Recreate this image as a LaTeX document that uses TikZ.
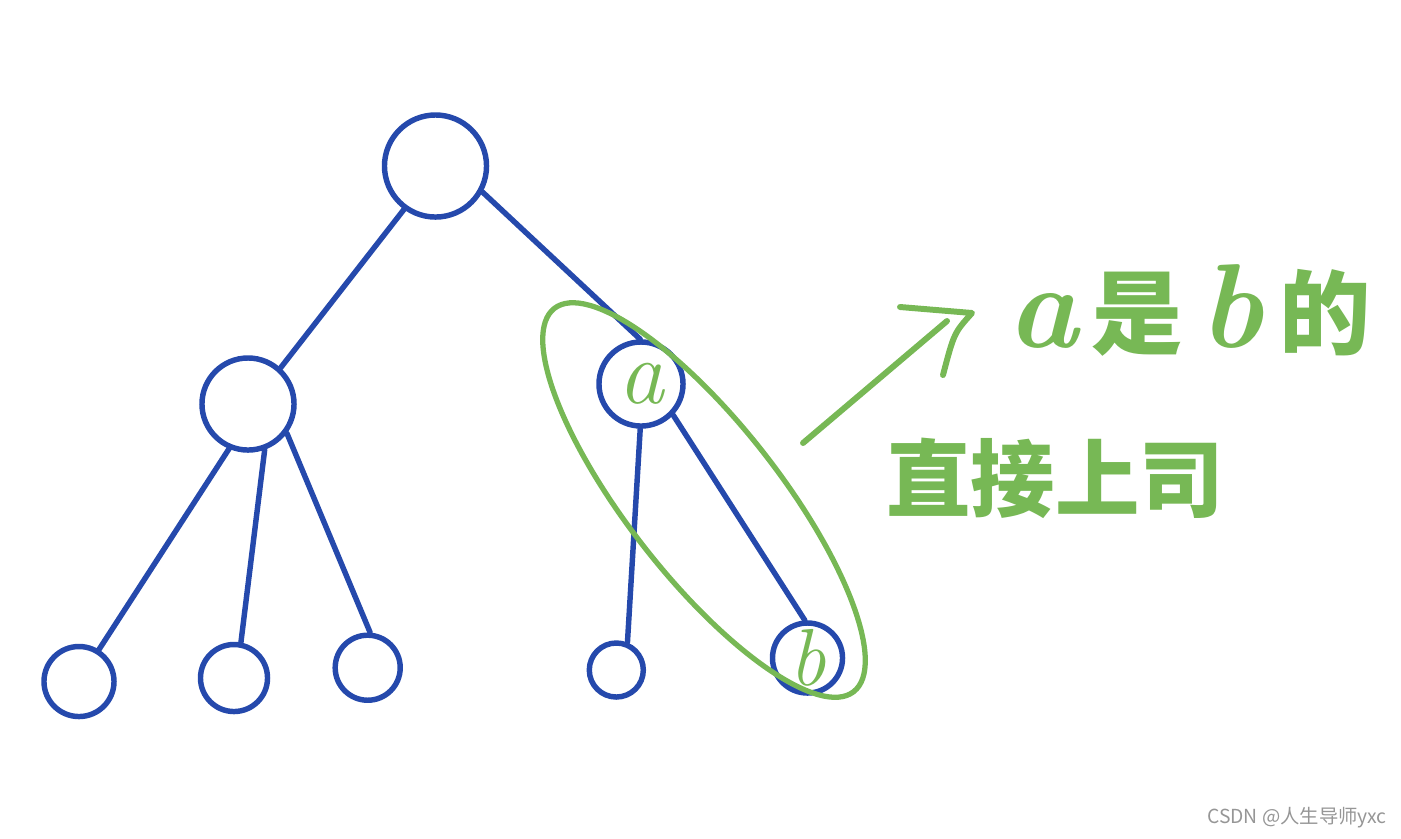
\documentclass[tikz,border=0pt]{standalone}
\usepackage{fontspec}
\usepackage{xcolor}
\usepackage{tikz}
\newfontfamily\cjk{Noto Sans CJK SC}
\definecolor{treeblue}{RGB}{37,73,172}
\definecolor{pengreen}{RGB}{119,184,85}
\definecolor{wmgray}{RGB}{150,150,150}
\newcommand{\hw}[1]{\makebox[0.94cm]{#1}}
\newcommand{\ltr}[1]{{\rmfamily\itshape #1}}

\begin{document}
\begin{tikzpicture}[x=0.01cm, y=-0.01cm, line cap=round,
    main/.style = {draw=treeblue, circle, line width=1.55pt, inner sep=0pt},
    pen/.style = {draw=pengreen, line width=1.5pt}]
      \useasboundingbox (0,0) rectangle (1401,838);
      \node[main, minimum size=1.02cm] (1) at (435.5,166) {};
      \node[main, minimum size=0.92cm] (2) at (248,404) {};
      \node[main, minimum size=0.84cm, text=pengreen, font=\fontsize{26}{26}\selectfont] (3) at (641,384) {\ltr{a}};
      \node[main, minimum size=0.70cm] (4) at (79,681.5) {};
      \node[main, minimum size=0.67cm] (5) at (234,678) {};
      \node[main, minimum size=0.65cm] (6) at (367.7,667.7) {};
      \node[main, minimum size=0.54cm] (7) at (616.3,670) {};
      \node[main, minimum size=0.70cm, text=pengreen, font=\fontsize{23}{23}\selectfont] (8) at (807.5,658) {\ltr{b}};

      \path[every edge/.style={draw=treeblue, line width=1.55pt}]
      (1.234) edge (2.48)
      (1.-29) edge (3.91)
      (2.247) edge (4.58)
      (2.-70) edge (5.79)
      (2.-37) edge (6.86)
      (3.-91) edge (7.68)
      (3.-44) edge (8.94);

      % green marks round a and b
      \draw[pen, rotate around={-52:(704,500)}] (704,500) ellipse [x radius=2.43cm, y radius=0.76cm];
      \coordinate (s) at (803,443);
      \coordinate (t) at (947,321);
      \coordinate (h1) at (900,307);
      \coordinate (h2) at (972,313);
      \coordinate (h3) at (943,375);
      \draw[pen, line width=1.7pt] (s) -- (t);
      \draw[pen, line width=1.7pt, line join=round] (h1) -- (h2) .. controls (954,333) .. (h3);

      \node[text=pengreen, anchor=base, font=\cjk\bfseries\fontsize{26}{26}\selectfont] (t1) at (1184,347)
        {\hw{\fontsize{34}{34}\selectfont\ltr{a}}\hw{是}\hw{\fontsize{34}{34}\selectfont\ltr{b}}\hw{的}};
      \node[text=pengreen, font=\cjk\bfseries\fontsize{24}{24}\selectfont] (t2) at (1055,478) {直接上司};
      \node[text=wmgray, font=\cjk\fontsize{5.5}{6}\selectfont] (wm) at (1297,818) {CSDN @人生导师yxc};
    \end{tikzpicture}
\end{document}
